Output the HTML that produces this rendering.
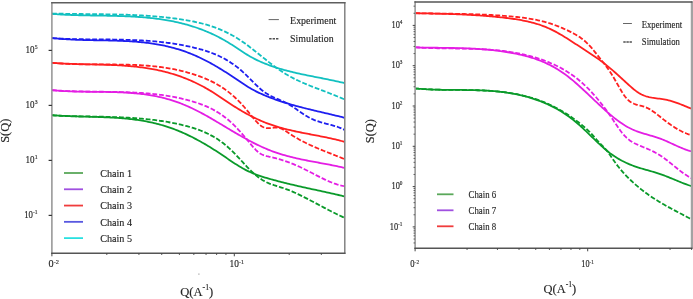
<!DOCTYPE html>
<html><head><meta charset="utf-8"><title>S(Q) plots</title>
<style>
html,body{margin:0;padding:0;background:#fff;}
body{width:693px;height:299px;overflow:hidden;}
svg{display:block;}
text{font-family:"Liberation Serif","Times New Roman",serif;fill:#262626;stroke:#262626;stroke-width:0.15px;}
</style></head>
<body>
<svg width="693" height="299" viewBox="0 0 693 299">
<defs>
<clipPath id="cl"><rect x="52.2" y="3.4" width="291.9" height="249.2"/></clipPath>
<clipPath id="cr"><rect x="415.8" y="2.7" width="275.2" height="244.9"/></clipPath>
</defs>
<rect width="693" height="299" fill="#fff"/>
<g clip-path="url(#cl)">
<path d="M52.0,115.10 L53.5,115.22 L55.0,115.34 L56.5,115.45 L58.0,115.55 L59.5,115.65 L61.0,115.74 L62.5,115.82 L64.0,115.90 L65.5,115.98 L67.0,116.05 L68.5,116.11 L70.0,116.17 L71.5,116.23 L73.0,116.29 L74.5,116.34 L76.0,116.39 L77.5,116.43 L79.0,116.48 L80.5,116.52 L82.0,116.56 L83.5,116.60 L85.0,116.64 L86.5,116.68 L88.0,116.72 L89.5,116.76 L91.0,116.80 L92.5,116.84 L94.0,116.88 L95.5,116.92 L97.0,116.97 L98.5,117.01 L100.0,117.06 L101.5,117.11 L103.0,117.17 L104.5,117.23 L106.0,117.29 L107.5,117.35 L109.0,117.42 L110.5,117.50 L112.0,117.57 L113.5,117.66 L115.0,117.75 L116.5,117.84 L118.0,117.95 L119.5,118.05 L121.0,118.17 L122.5,118.29 L124.0,118.42 L125.5,118.56 L127.0,118.70 L128.5,118.86 L130.0,119.02 L131.5,119.19 L133.0,119.37 L134.5,119.56 L136.0,119.76 L137.5,119.97 L139.0,120.19 L140.5,120.43 L142.0,120.67 L143.5,120.92 L145.0,121.19 L146.5,121.47 L148.0,121.76 L149.5,122.06 L151.0,122.38 L152.5,122.71 L154.0,123.06 L155.5,123.41 L157.0,123.79 L158.5,124.18 L160.0,124.58 L161.5,125.00 L163.0,125.43 L164.5,125.88 L166.0,126.34 L167.5,126.83 L169.0,127.33 L170.5,127.84 L172.0,128.38 L173.5,128.93 L175.0,129.49 L176.5,130.08 L178.0,130.68 L179.5,131.30 L181.0,131.93 L182.5,132.58 L184.0,133.25 L185.5,133.93 L187.0,134.63 L188.5,135.34 L190.0,136.07 L191.5,136.81 L193.0,137.57 L194.5,138.34 L196.0,139.13 L197.5,139.93 L199.0,140.75 L200.5,141.58 L202.0,142.42 L203.5,143.28 L205.0,144.15 L206.5,145.03 L208.0,145.93 L209.5,146.84 L211.0,147.76 L212.5,148.69 L214.0,149.64 L215.5,150.60 L217.0,151.57 L218.5,152.55 L220.0,153.54 L221.5,154.55 L223.0,155.56 L224.5,156.58 L226.0,157.60 L227.5,158.62 L229.0,159.64 L230.5,160.66 L232.0,161.66 L233.5,162.65 L235.0,163.63 L236.5,164.59 L238.0,165.53 L239.5,166.45 L241.0,167.35 L242.5,168.21 L244.0,169.04 L245.5,169.84 L247.0,170.60 L248.5,171.33 L250.0,172.02 L251.5,172.68 L253.0,173.31 L254.5,173.92 L256.0,174.49 L257.5,175.05 L259.0,175.58 L260.5,176.09 L262.0,176.58 L263.5,177.06 L265.0,177.52 L266.5,177.97 L268.0,178.40 L269.5,178.83 L271.0,179.25 L272.5,179.67 L274.0,180.08 L275.5,180.49 L277.0,180.88 L278.5,181.28 L280.0,181.67 L281.5,182.05 L283.0,182.43 L284.5,182.80 L286.0,183.17 L287.5,183.54 L289.0,183.90 L290.5,184.26 L292.0,184.62 L293.5,184.97 L295.0,185.32 L296.5,185.66 L298.0,186.01 L299.5,186.35 L301.0,186.69 L302.5,187.02 L304.0,187.36 L305.5,187.69 L307.0,188.02 L308.5,188.35 L310.0,188.68 L311.5,189.01 L313.0,189.34 L314.5,189.66 L316.0,189.99 L317.5,190.32 L319.0,190.64 L320.5,190.97 L322.0,191.30 L323.5,191.63 L325.0,191.96 L326.5,192.29 L328.0,192.62 L329.5,192.95 L331.0,193.29 L332.5,193.63 L334.0,193.97 L335.5,194.31 L337.0,194.65 L338.5,195.00 L340.0,195.35 L341.5,195.70 L343.0,196.06 L344.5,196.42 L346.0,196.78" fill="none" stroke="#0a9a2a" stroke-width="1.8" stroke-linejoin="round"/>
<path d="M52.0,115.40 L53.5,115.48 L55.0,115.55 L56.5,115.62 L58.0,115.68 L59.5,115.74 L61.0,115.80 L62.5,115.85 L64.0,115.90 L65.5,115.95 L67.0,116.00 L68.5,116.04 L70.0,116.08 L71.5,116.12 L73.0,116.16 L74.5,116.20 L76.0,116.23 L77.5,116.26 L79.0,116.29 L80.5,116.32 L82.0,116.35 L83.5,116.38 L85.0,116.41 L86.5,116.43 L88.0,116.46 L89.5,116.49 L91.0,116.51 L92.5,116.54 L94.0,116.57 L95.5,116.59 L97.0,116.62 L98.5,116.65 L100.0,116.68 L101.5,116.71 L103.0,116.75 L104.5,116.78 L106.0,116.82 L107.5,116.86 L109.0,116.90 L110.5,116.94 L112.0,116.99 L113.5,117.04 L115.0,117.09 L116.5,117.14 L118.0,117.20 L119.5,117.26 L121.0,117.32 L122.5,117.39 L124.0,117.46 L125.5,117.54 L127.0,117.62 L128.5,117.70 L130.0,117.79 L131.5,117.88 L133.0,117.98 L134.5,118.08 L136.0,118.19 L137.5,118.31 L139.0,118.42 L140.5,118.55 L142.0,118.68 L143.5,118.82 L145.0,118.96 L146.5,119.11 L148.0,119.27 L149.5,119.43 L151.0,119.60 L152.5,119.78 L154.0,119.96 L155.5,120.15 L157.0,120.35 L158.5,120.56 L160.0,120.77 L161.5,121.00 L163.0,121.23 L164.5,121.47 L166.0,121.72 L167.5,121.97 L169.0,122.24 L170.5,122.52 L172.0,122.80 L173.5,123.09 L175.0,123.40 L176.5,123.71 L178.0,124.04 L179.5,124.37 L181.0,124.71 L182.5,125.07 L184.0,125.43 L185.5,125.81 L187.0,126.20 L188.5,126.60 L190.0,127.02 L191.5,127.46 L193.0,127.91 L194.5,128.39 L196.0,128.88 L197.5,129.40 L199.0,129.94 L200.5,130.51 L202.0,131.11 L203.5,131.73 L205.0,132.38 L206.5,133.07 L208.0,133.79 L209.5,134.54 L211.0,135.33 L212.5,136.15 L214.0,137.02 L215.5,137.92 L217.0,138.86 L218.5,139.85 L220.0,140.89 L221.5,141.96 L223.0,143.09 L224.5,144.26 L226.0,145.49 L227.5,146.76 L229.0,148.09 L230.5,149.48 L232.0,150.92 L233.5,152.41 L235.0,153.94 L236.5,155.51 L238.0,157.10 L239.5,158.72 L241.0,160.34 L242.5,161.97 L244.0,163.59 L245.5,165.20 L247.0,166.79 L248.5,168.35 L250.0,169.88 L251.5,171.35 L253.0,172.77 L254.5,174.13 L256.0,175.41 L257.5,176.61 L259.0,177.74 L260.5,178.78 L262.0,179.75 L263.5,180.65 L265.0,181.47 L266.5,182.23 L268.0,182.92 L269.5,183.55 L271.0,184.14 L272.5,184.68 L274.0,185.20 L275.5,185.68 L277.0,186.15 L278.5,186.61 L280.0,187.07 L281.5,187.53 L283.0,188.01 L284.5,188.50 L286.0,189.03 L287.5,189.58 L289.0,190.16 L290.5,190.77 L292.0,191.40 L293.5,192.06 L295.0,192.73 L296.5,193.42 L298.0,194.13 L299.5,194.86 L301.0,195.60 L302.5,196.35 L304.0,197.11 L305.5,197.87 L307.0,198.65 L308.5,199.42 L310.0,200.21 L311.5,200.99 L313.0,201.78 L314.5,202.58 L316.0,203.37 L317.5,204.16 L319.0,204.96 L320.5,205.75 L322.0,206.55 L323.5,207.34 L325.0,208.13 L326.5,208.91 L328.0,209.69 L329.5,210.47 L331.0,211.23 L332.5,212.00 L334.0,212.75 L335.5,213.50 L337.0,214.24 L338.5,214.97 L340.0,215.69 L341.5,216.40 L343.0,217.09 L344.5,217.78 L346.0,218.45" fill="none" stroke="#0a9a2a" stroke-width="1.8" stroke-linejoin="round" stroke-dasharray="4.8 1.9"/>
<path d="M52.0,90.16 L53.5,90.30 L55.0,90.44 L56.5,90.56 L58.0,90.68 L59.5,90.79 L61.0,90.89 L62.5,90.98 L64.0,91.07 L65.5,91.15 L67.0,91.22 L68.5,91.29 L70.0,91.35 L71.5,91.41 L73.0,91.46 L74.5,91.50 L76.0,91.54 L77.5,91.58 L79.0,91.61 L80.5,91.64 L82.0,91.67 L83.5,91.69 L85.0,91.71 L86.5,91.73 L88.0,91.75 L89.5,91.76 L91.0,91.78 L92.5,91.79 L94.0,91.80 L95.5,91.82 L97.0,91.83 L98.5,91.84 L100.0,91.86 L101.5,91.87 L103.0,91.89 L104.5,91.91 L106.0,91.93 L107.5,91.96 L109.0,91.99 L110.5,92.02 L112.0,92.05 L113.5,92.09 L115.0,92.13 L116.5,92.18 L118.0,92.23 L119.5,92.29 L121.0,92.36 L122.5,92.43 L124.0,92.50 L125.5,92.59 L127.0,92.68 L128.5,92.77 L130.0,92.88 L131.5,92.99 L133.0,93.11 L134.5,93.25 L136.0,93.39 L137.5,93.53 L139.0,93.69 L140.5,93.86 L142.0,94.04 L143.5,94.23 L145.0,94.44 L146.5,94.65 L148.0,94.87 L149.5,95.11 L151.0,95.36 L152.5,95.63 L154.0,95.90 L155.5,96.19 L157.0,96.49 L158.5,96.81 L160.0,97.15 L161.5,97.49 L163.0,97.86 L164.5,98.23 L166.0,98.63 L167.5,99.04 L169.0,99.47 L170.5,99.91 L172.0,100.37 L173.5,100.85 L175.0,101.35 L176.5,101.86 L178.0,102.40 L179.5,102.95 L181.0,103.52 L182.5,104.12 L184.0,104.73 L185.5,105.36 L187.0,106.00 L188.5,106.67 L190.0,107.35 L191.5,108.05 L193.0,108.76 L194.5,109.49 L196.0,110.23 L197.5,110.99 L199.0,111.76 L200.5,112.55 L202.0,113.35 L203.5,114.16 L205.0,114.98 L206.5,115.82 L208.0,116.66 L209.5,117.52 L211.0,118.38 L212.5,119.25 L214.0,120.13 L215.5,121.02 L217.0,121.91 L218.5,122.80 L220.0,123.70 L221.5,124.59 L223.0,125.49 L224.5,126.39 L226.0,127.29 L227.5,128.18 L229.0,129.07 L230.5,129.97 L232.0,130.85 L233.5,131.74 L235.0,132.61 L236.5,133.49 L238.0,134.35 L239.5,135.22 L241.0,136.07 L242.5,136.92 L244.0,137.76 L245.5,138.58 L247.0,139.40 L248.5,140.21 L250.0,141.01 L251.5,141.80 L253.0,142.58 L254.5,143.34 L256.0,144.09 L257.5,144.83 L259.0,145.55 L260.5,146.26 L262.0,146.95 L263.5,147.63 L265.0,148.29 L266.5,148.93 L268.0,149.55 L269.5,150.16 L271.0,150.75 L272.5,151.31 L274.0,151.86 L275.5,152.39 L277.0,152.91 L278.5,153.41 L280.0,153.89 L281.5,154.35 L283.0,154.81 L284.5,155.24 L286.0,155.67 L287.5,156.08 L289.0,156.47 L290.5,156.86 L292.0,157.24 L293.5,157.60 L295.0,157.96 L296.5,158.30 L298.0,158.64 L299.5,158.96 L301.0,159.29 L302.5,159.60 L304.0,159.91 L305.5,160.21 L307.0,160.50 L308.5,160.79 L310.0,161.08 L311.5,161.36 L313.0,161.64 L314.5,161.92 L316.0,162.20 L317.5,162.47 L319.0,162.75 L320.5,163.03 L322.0,163.30 L323.5,163.58 L325.0,163.86 L326.5,164.14 L328.0,164.42 L329.5,164.71 L331.0,165.00 L332.5,165.30 L334.0,165.60 L335.5,165.91 L337.0,166.23 L338.5,166.55 L340.0,166.88 L341.5,167.22 L343.0,167.57 L344.5,167.93 L346.0,168.29" fill="none" stroke="#e41ee4" stroke-width="1.8" stroke-linejoin="round"/>
<path d="M52.0,90.14 L53.5,90.26 L55.0,90.37 L56.5,90.48 L58.0,90.58 L59.5,90.67 L61.0,90.76 L62.5,90.84 L64.0,90.91 L65.5,90.99 L67.0,91.05 L68.5,91.11 L70.0,91.17 L71.5,91.23 L73.0,91.27 L74.5,91.32 L76.0,91.36 L77.5,91.40 L79.0,91.44 L80.5,91.47 L82.0,91.50 L83.5,91.53 L85.0,91.55 L86.5,91.58 L88.0,91.60 L89.5,91.62 L91.0,91.64 L92.5,91.65 L94.0,91.67 L95.5,91.68 L97.0,91.70 L98.5,91.72 L100.0,91.73 L101.5,91.75 L103.0,91.76 L104.5,91.78 L106.0,91.79 L107.5,91.81 L109.0,91.83 L110.5,91.85 L112.0,91.87 L113.5,91.90 L115.0,91.92 L116.5,91.95 L118.0,91.98 L119.5,92.02 L121.0,92.05 L122.5,92.10 L124.0,92.14 L125.5,92.19 L127.0,92.24 L128.5,92.29 L130.0,92.35 L131.5,92.42 L133.0,92.48 L134.5,92.56 L136.0,92.64 L137.5,92.72 L139.0,92.81 L140.5,92.90 L142.0,93.01 L143.5,93.11 L145.0,93.23 L146.5,93.35 L148.0,93.48 L149.5,93.61 L151.0,93.75 L152.5,93.90 L154.0,94.06 L155.5,94.23 L157.0,94.40 L158.5,94.58 L160.0,94.77 L161.5,94.97 L163.0,95.18 L164.5,95.40 L166.0,95.62 L167.5,95.86 L169.0,96.11 L170.5,96.37 L172.0,96.63 L173.5,96.91 L175.0,97.20 L176.5,97.50 L178.0,97.81 L179.5,98.13 L181.0,98.47 L182.5,98.81 L184.0,99.17 L185.5,99.54 L187.0,99.92 L188.5,100.32 L190.0,100.73 L191.5,101.15 L193.0,101.59 L194.5,102.04 L196.0,102.51 L197.5,103.00 L199.0,103.51 L200.5,104.05 L202.0,104.61 L203.5,105.19 L205.0,105.80 L206.5,106.44 L208.0,107.11 L209.5,107.81 L211.0,108.55 L212.5,109.32 L214.0,110.12 L215.5,110.97 L217.0,111.86 L218.5,112.78 L220.0,113.75 L221.5,114.76 L223.0,115.82 L224.5,116.93 L226.0,118.09 L227.5,119.29 L229.0,120.55 L230.5,121.87 L232.0,123.23 L233.5,124.66 L235.0,126.14 L236.5,127.68 L238.0,129.28 L239.5,130.93 L241.0,132.61 L242.5,134.34 L244.0,136.09 L245.5,137.87 L247.0,139.66 L248.5,141.47 L250.0,143.28 L251.5,145.08 L253.0,146.85 L254.5,148.53 L256.0,150.09 L257.5,151.49 L259.0,152.69 L260.5,153.67 L262.0,154.47 L263.5,155.11 L265.0,155.63 L266.5,156.06 L268.0,156.43 L269.5,156.77 L271.0,157.11 L272.5,157.47 L274.0,157.84 L275.5,158.23 L277.0,158.63 L278.5,159.05 L280.0,159.48 L281.5,159.93 L283.0,160.40 L284.5,160.88 L286.0,161.38 L287.5,161.91 L289.0,162.45 L290.5,163.01 L292.0,163.59 L293.5,164.19 L295.0,164.81 L296.5,165.45 L298.0,166.11 L299.5,166.80 L301.0,167.50 L302.5,168.22 L304.0,168.96 L305.5,169.71 L307.0,170.47 L308.5,171.24 L310.0,172.01 L311.5,172.79 L313.0,173.57 L314.5,174.35 L316.0,175.13 L317.5,175.90 L319.0,176.66 L320.5,177.41 L322.0,178.16 L323.5,178.88 L325.0,179.59 L326.5,180.28 L328.0,180.95 L329.5,181.60 L331.0,182.21 L332.5,182.81 L334.0,183.37 L335.5,183.89 L337.0,184.39 L338.5,184.84 L340.0,185.26 L341.5,185.63 L343.0,185.96 L344.5,186.24 L346.0,186.48" fill="none" stroke="#e41ee4" stroke-width="1.8" stroke-linejoin="round" stroke-dasharray="4.8 1.9"/>
<path d="M52.0,62.81 L53.5,62.93 L55.0,63.03 L56.5,63.14 L58.0,63.23 L59.5,63.32 L61.0,63.41 L62.5,63.49 L64.0,63.56 L65.5,63.63 L67.0,63.70 L68.5,63.76 L70.0,63.82 L71.5,63.87 L73.0,63.93 L74.5,63.97 L76.0,64.02 L77.5,64.06 L79.0,64.10 L80.5,64.14 L82.0,64.18 L83.5,64.22 L85.0,64.25 L86.5,64.28 L88.0,64.32 L89.5,64.35 L91.0,64.38 L92.5,64.42 L94.0,64.45 L95.5,64.49 L97.0,64.52 L98.5,64.56 L100.0,64.60 L101.5,64.64 L103.0,64.68 L104.5,64.73 L106.0,64.78 L107.5,64.83 L109.0,64.88 L110.5,64.94 L112.0,65.00 L113.5,65.07 L115.0,65.14 L116.5,65.21 L118.0,65.29 L119.5,65.38 L121.0,65.47 L122.5,65.57 L124.0,65.67 L125.5,65.78 L127.0,65.89 L128.5,66.01 L130.0,66.14 L131.5,66.28 L133.0,66.42 L134.5,66.57 L136.0,66.73 L137.5,66.90 L139.0,67.08 L140.5,67.27 L142.0,67.46 L143.5,67.67 L145.0,67.88 L146.5,68.11 L148.0,68.34 L149.5,68.59 L151.0,68.85 L152.5,69.12 L154.0,69.40 L155.5,69.69 L157.0,69.99 L158.5,70.31 L160.0,70.63 L161.5,70.98 L163.0,71.33 L164.5,71.70 L166.0,72.08 L167.5,72.47 L169.0,72.88 L170.5,73.31 L172.0,73.75 L173.5,74.20 L175.0,74.67 L176.5,75.15 L178.0,75.65 L179.5,76.17 L181.0,76.70 L182.5,77.25 L184.0,77.82 L185.5,78.40 L187.0,79.00 L188.5,79.62 L190.0,80.26 L191.5,80.91 L193.0,81.59 L194.5,82.28 L196.0,82.99 L197.5,83.72 L199.0,84.47 L200.5,85.23 L202.0,86.02 L203.5,86.82 L205.0,87.65 L206.5,88.49 L208.0,89.35 L209.5,90.23 L211.0,91.13 L212.5,92.05 L214.0,92.99 L215.5,93.95 L217.0,94.93 L218.5,95.92 L220.0,96.93 L221.5,97.94 L223.0,98.95 L224.5,99.97 L226.0,100.99 L227.5,102.00 L229.0,103.00 L230.5,103.99 L232.0,104.97 L233.5,105.93 L235.0,106.88 L236.5,107.82 L238.0,108.74 L239.5,109.64 L241.0,110.54 L242.5,111.41 L244.0,112.27 L245.5,113.12 L247.0,113.95 L248.5,114.76 L250.0,115.55 L251.5,116.33 L253.0,117.09 L254.5,117.83 L256.0,118.55 L257.5,119.26 L259.0,119.94 L260.5,120.61 L262.0,121.25 L263.5,121.88 L265.0,122.48 L266.5,123.06 L268.0,123.63 L269.5,124.18 L271.0,124.71 L272.5,125.22 L274.0,125.71 L275.5,126.19 L277.0,126.66 L278.5,127.10 L280.0,127.54 L281.5,127.96 L283.0,128.37 L284.5,128.77 L286.0,129.15 L287.5,129.52 L289.0,129.89 L290.5,130.24 L292.0,130.59 L293.5,130.92 L295.0,131.25 L296.5,131.57 L298.0,131.89 L299.5,132.20 L301.0,132.50 L302.5,132.80 L304.0,133.10 L305.5,133.39 L307.0,133.68 L308.5,133.96 L310.0,134.25 L311.5,134.53 L313.0,134.82 L314.5,135.10 L316.0,135.39 L317.5,135.68 L319.0,135.96 L320.5,136.26 L322.0,136.55 L323.5,136.85 L325.0,137.16 L326.5,137.47 L328.0,137.78 L329.5,138.11 L331.0,138.44 L332.5,138.77 L334.0,139.12 L335.5,139.48 L337.0,139.84 L338.5,140.22 L340.0,140.60 L341.5,141.00 L343.0,141.41 L344.5,141.84 L346.0,142.28" fill="none" stroke="#ff2020" stroke-width="1.8" stroke-linejoin="round"/>
<path d="M52.0,62.78 L53.5,62.92 L55.0,63.06 L56.5,63.18 L58.0,63.30 L59.5,63.41 L61.0,63.51 L62.5,63.61 L64.0,63.70 L65.5,63.78 L67.0,63.86 L68.5,63.93 L70.0,63.99 L71.5,64.05 L73.0,64.10 L74.5,64.15 L76.0,64.20 L77.5,64.24 L79.0,64.27 L80.5,64.30 L82.0,64.33 L83.5,64.35 L85.0,64.37 L86.5,64.39 L88.0,64.41 L89.5,64.42 L91.0,64.43 L92.5,64.44 L94.0,64.45 L95.5,64.45 L97.0,64.46 L98.5,64.46 L100.0,64.46 L101.5,64.47 L103.0,64.47 L104.5,64.47 L106.0,64.47 L107.5,64.48 L109.0,64.48 L110.5,64.49 L112.0,64.50 L113.5,64.50 L115.0,64.52 L116.5,64.53 L118.0,64.54 L119.5,64.56 L121.0,64.58 L122.5,64.61 L124.0,64.63 L125.5,64.67 L127.0,64.70 L128.5,64.74 L130.0,64.79 L131.5,64.83 L133.0,64.89 L134.5,64.95 L136.0,65.01 L137.5,65.08 L139.0,65.16 L140.5,65.24 L142.0,65.33 L143.5,65.43 L145.0,65.53 L146.5,65.64 L148.0,65.76 L149.5,65.89 L151.0,66.02 L152.5,66.16 L154.0,66.31 L155.5,66.47 L157.0,66.64 L158.5,66.82 L160.0,67.01 L161.5,67.21 L163.0,67.42 L164.5,67.64 L166.0,67.86 L167.5,68.10 L169.0,68.36 L170.5,68.62 L172.0,68.89 L173.5,69.18 L175.0,69.48 L176.5,69.79 L178.0,70.11 L179.5,70.45 L181.0,70.80 L182.5,71.16 L184.0,71.54 L185.5,71.93 L187.0,72.34 L188.5,72.76 L190.0,73.19 L191.5,73.64 L193.0,74.11 L194.5,74.59 L196.0,75.08 L197.5,75.60 L199.0,76.12 L200.5,76.67 L202.0,77.24 L203.5,77.83 L205.0,78.44 L206.5,79.07 L208.0,79.73 L209.5,80.41 L211.0,81.13 L212.5,81.87 L214.0,82.64 L215.5,83.45 L217.0,84.29 L218.5,85.16 L220.0,86.08 L221.5,87.02 L223.0,88.01 L224.5,89.04 L226.0,90.11 L227.5,91.23 L229.0,92.39 L230.5,93.59 L232.0,94.85 L233.5,96.15 L235.0,97.50 L236.5,98.91 L238.0,100.36 L239.5,101.88 L241.0,103.45 L242.5,105.07 L244.0,106.76 L245.5,108.51 L247.0,110.31 L248.5,112.17 L250.0,114.04 L251.5,115.90 L253.0,117.73 L254.5,119.50 L256.0,121.17 L257.5,122.73 L259.0,124.15 L260.5,125.39 L262.0,126.43 L263.5,127.25 L265.0,127.81 L266.5,128.12 L268.0,128.22 L269.5,128.17 L271.0,128.02 L272.5,127.83 L274.0,127.65 L275.5,127.55 L277.0,127.57 L278.5,127.77 L280.0,128.18 L281.5,128.77 L283.0,129.50 L284.5,130.34 L286.0,131.27 L287.5,132.26 L289.0,133.26 L290.5,134.26 L292.0,135.23 L293.5,136.17 L295.0,137.09 L296.5,137.97 L298.0,138.84 L299.5,139.68 L301.0,140.49 L302.5,141.28 L304.0,142.06 L305.5,142.81 L307.0,143.55 L308.5,144.26 L310.0,144.97 L311.5,145.65 L313.0,146.33 L314.5,146.98 L316.0,147.63 L317.5,148.27 L319.0,148.90 L320.5,149.52 L322.0,150.13 L323.5,150.73 L325.0,151.33 L326.5,151.93 L328.0,152.52 L329.5,153.11 L331.0,153.70 L332.5,154.29 L334.0,154.88 L335.5,155.47 L337.0,156.07 L338.5,156.67 L340.0,157.28 L341.5,157.89 L343.0,158.52 L344.5,159.15 L346.0,159.79 L347.5,160.44 L348.0,160.66" fill="none" stroke="#ff2020" stroke-width="1.8" stroke-linejoin="round" stroke-dasharray="4.8 1.9"/>
<path d="M52.0,37.99 L53.5,38.16 L55.0,38.32 L56.5,38.47 L58.0,38.61 L59.5,38.74 L61.0,38.87 L62.5,38.99 L64.0,39.10 L65.5,39.20 L67.0,39.30 L68.5,39.39 L70.0,39.47 L71.5,39.55 L73.0,39.62 L74.5,39.69 L76.0,39.75 L77.5,39.81 L79.0,39.87 L80.5,39.91 L82.0,39.96 L83.5,40.00 L85.0,40.04 L86.5,40.08 L88.0,40.11 L89.5,40.14 L91.0,40.17 L92.5,40.20 L94.0,40.23 L95.5,40.26 L97.0,40.28 L98.5,40.31 L100.0,40.33 L101.5,40.36 L103.0,40.38 L104.5,40.41 L106.0,40.44 L107.5,40.47 L109.0,40.50 L110.5,40.53 L112.0,40.57 L113.5,40.61 L115.0,40.65 L116.5,40.69 L118.0,40.74 L119.5,40.80 L121.0,40.85 L122.5,40.91 L124.0,40.98 L125.5,41.05 L127.0,41.13 L128.5,41.21 L130.0,41.30 L131.5,41.40 L133.0,41.50 L134.5,41.61 L136.0,41.72 L137.5,41.85 L139.0,41.98 L140.5,42.12 L142.0,42.27 L143.5,42.42 L145.0,42.59 L146.5,42.77 L148.0,42.95 L149.5,43.15 L151.0,43.36 L152.5,43.57 L154.0,43.80 L155.5,44.04 L157.0,44.29 L158.5,44.56 L160.0,44.83 L161.5,45.12 L163.0,45.42 L164.5,45.73 L166.0,46.06 L167.5,46.40 L169.0,46.76 L170.5,47.13 L172.0,47.51 L173.5,47.91 L175.0,48.33 L176.5,48.76 L178.0,49.20 L179.5,49.66 L181.0,50.14 L182.5,50.64 L184.0,51.15 L185.5,51.68 L187.0,52.23 L188.5,52.80 L190.0,53.38 L191.5,53.98 L193.0,54.61 L194.5,55.25 L196.0,55.90 L197.5,56.58 L199.0,57.27 L200.5,57.98 L202.0,58.70 L203.5,59.45 L205.0,60.21 L206.5,60.98 L208.0,61.77 L209.5,62.57 L211.0,63.39 L212.5,64.23 L214.0,65.08 L215.5,65.94 L217.0,66.82 L218.5,67.71 L220.0,68.61 L221.5,69.53 L223.0,70.46 L224.5,71.40 L226.0,72.35 L227.5,73.32 L229.0,74.29 L230.5,75.28 L232.0,76.28 L233.5,77.29 L235.0,78.31 L236.5,79.33 L238.0,80.35 L239.5,81.36 L241.0,82.37 L242.5,83.37 L244.0,84.35 L245.5,85.32 L247.0,86.27 L248.5,87.19 L250.0,88.08 L251.5,88.94 L253.0,89.77 L254.5,90.57 L256.0,91.35 L257.5,92.09 L259.0,92.82 L260.5,93.52 L262.0,94.19 L263.5,94.85 L265.0,95.49 L266.5,96.11 L268.0,96.71 L269.5,97.30 L271.0,97.88 L272.5,98.44 L274.0,98.99 L275.5,99.53 L277.0,100.06 L278.5,100.58 L280.0,101.08 L281.5,101.58 L283.0,102.06 L284.5,102.54 L286.0,103.00 L287.5,103.46 L289.0,103.91 L290.5,104.35 L292.0,104.78 L293.5,105.20 L295.0,105.62 L296.5,106.03 L298.0,106.44 L299.5,106.83 L301.0,107.23 L302.5,107.61 L304.0,108.00 L305.5,108.37 L307.0,108.75 L308.5,109.11 L310.0,109.48 L311.5,109.84 L313.0,110.20 L314.5,110.56 L316.0,110.92 L317.5,111.27 L319.0,111.62 L320.5,111.97 L322.0,112.32 L323.5,112.67 L325.0,113.02 L326.5,113.38 L328.0,113.73 L329.5,114.08 L331.0,114.43 L332.5,114.79 L334.0,115.15 L335.5,115.51 L337.0,115.88 L338.5,116.24 L340.0,116.62 L341.5,116.99 L343.0,117.37 L344.5,117.76 L346.0,118.15" fill="none" stroke="#1e1ef0" stroke-width="1.8" stroke-linejoin="round"/>
<path d="M52.0,38.20 L53.5,38.29 L55.0,38.37 L56.5,38.45 L58.0,38.52 L59.5,38.59 L61.0,38.66 L62.5,38.72 L64.0,38.78 L65.5,38.83 L67.0,38.88 L68.5,38.93 L70.0,38.97 L71.5,39.01 L73.0,39.05 L74.5,39.08 L76.0,39.11 L77.5,39.14 L79.0,39.17 L80.5,39.20 L82.0,39.22 L83.5,39.24 L85.0,39.26 L86.5,39.28 L88.0,39.29 L89.5,39.31 L91.0,39.32 L92.5,39.34 L94.0,39.35 L95.5,39.36 L97.0,39.38 L98.5,39.39 L100.0,39.40 L101.5,39.41 L103.0,39.43 L104.5,39.44 L106.0,39.45 L107.5,39.47 L109.0,39.49 L110.5,39.50 L112.0,39.52 L113.5,39.54 L115.0,39.57 L116.5,39.59 L118.0,39.62 L119.5,39.65 L121.0,39.68 L122.5,39.71 L124.0,39.75 L125.5,39.79 L127.0,39.83 L128.5,39.88 L130.0,39.93 L131.5,39.98 L133.0,40.04 L134.5,40.10 L136.0,40.16 L137.5,40.23 L139.0,40.31 L140.5,40.39 L142.0,40.47 L143.5,40.56 L145.0,40.65 L146.5,40.75 L148.0,40.86 L149.5,40.97 L151.0,41.08 L152.5,41.21 L154.0,41.33 L155.5,41.47 L157.0,41.61 L158.5,41.76 L160.0,41.91 L161.5,42.08 L163.0,42.24 L164.5,42.42 L166.0,42.60 L167.5,42.80 L169.0,43.00 L170.5,43.20 L172.0,43.42 L173.5,43.64 L175.0,43.88 L176.5,44.12 L178.0,44.37 L179.5,44.63 L181.0,44.90 L182.5,45.18 L184.0,45.47 L185.5,45.76 L187.0,46.07 L188.5,46.39 L190.0,46.72 L191.5,47.06 L193.0,47.40 L194.5,47.76 L196.0,48.14 L197.5,48.52 L199.0,48.91 L200.5,49.32 L202.0,49.74 L203.5,50.18 L205.0,50.64 L206.5,51.12 L208.0,51.61 L209.5,52.13 L211.0,52.67 L212.5,53.24 L214.0,53.83 L215.5,54.45 L217.0,55.09 L218.5,55.77 L220.0,56.47 L221.5,57.21 L223.0,57.98 L224.5,58.79 L226.0,59.63 L227.5,60.51 L229.0,61.43 L230.5,62.38 L232.0,63.38 L233.5,64.42 L235.0,65.51 L236.5,66.64 L238.0,67.81 L239.5,69.04 L241.0,70.31 L242.5,71.63 L244.0,73.01 L245.5,74.43 L247.0,75.89 L248.5,77.38 L250.0,78.88 L251.5,80.39 L253.0,81.90 L254.5,83.38 L256.0,84.85 L257.5,86.27 L259.0,87.64 L260.5,88.96 L262.0,90.20 L263.5,91.37 L265.0,92.44 L266.5,93.43 L268.0,94.34 L269.5,95.19 L271.0,95.99 L272.5,96.73 L274.0,97.44 L275.5,98.12 L277.0,98.78 L278.5,99.44 L280.0,100.09 L281.5,100.75 L283.0,101.43 L284.5,102.13 L286.0,102.88 L287.5,103.67 L289.0,104.51 L290.5,105.41 L292.0,106.35 L293.5,107.33 L295.0,108.33 L296.5,109.36 L298.0,110.39 L299.5,111.42 L301.0,112.45 L302.5,113.47 L304.0,114.46 L305.5,115.41 L307.0,116.33 L308.5,117.19 L310.0,118.00 L311.5,118.74 L313.0,119.43 L314.5,120.05 L316.0,120.63 L317.5,121.17 L319.0,121.66 L320.5,122.13 L322.0,122.56 L323.5,122.98 L325.0,123.38 L326.5,123.77 L328.0,124.16 L329.5,124.55 L331.0,124.95 L332.5,125.36 L334.0,125.79 L335.5,126.24 L337.0,126.73 L338.5,127.25 L340.0,127.82 L341.5,128.43 L343.0,129.10 L344.5,129.82 L346.0,130.61" fill="none" stroke="#1e1ef0" stroke-width="1.8" stroke-linejoin="round" stroke-dasharray="4.8 1.9"/>
<path d="M52.0,13.86 L53.5,13.98 L55.0,14.09 L56.5,14.20 L58.0,14.30 L59.5,14.40 L61.0,14.49 L62.5,14.58 L64.0,14.66 L65.5,14.74 L67.0,14.81 L68.5,14.87 L70.0,14.94 L71.5,15.00 L73.0,15.05 L74.5,15.10 L76.0,15.15 L77.5,15.19 L79.0,15.23 L80.5,15.27 L82.0,15.31 L83.5,15.34 L85.0,15.37 L86.5,15.40 L88.0,15.43 L89.5,15.46 L91.0,15.48 L92.5,15.51 L94.0,15.53 L95.5,15.55 L97.0,15.58 L98.5,15.60 L100.0,15.62 L101.5,15.65 L103.0,15.67 L104.5,15.69 L106.0,15.72 L107.5,15.75 L109.0,15.78 L110.5,15.80 L112.0,15.84 L113.5,15.87 L115.0,15.91 L116.5,15.95 L118.0,15.99 L119.5,16.03 L121.0,16.08 L122.5,16.13 L124.0,16.19 L125.5,16.24 L127.0,16.31 L128.5,16.37 L130.0,16.45 L131.5,16.52 L133.0,16.60 L134.5,16.69 L136.0,16.78 L137.5,16.88 L139.0,16.98 L140.5,17.09 L142.0,17.21 L143.5,17.33 L145.0,17.46 L146.5,17.60 L148.0,17.74 L149.5,17.89 L151.0,18.05 L152.5,18.22 L154.0,18.39 L155.5,18.57 L157.0,18.77 L158.5,18.97 L160.0,19.17 L161.5,19.39 L163.0,19.62 L164.5,19.86 L166.0,20.10 L167.5,20.36 L169.0,20.63 L170.5,20.91 L172.0,21.19 L173.5,21.49 L175.0,21.81 L176.5,22.13 L178.0,22.46 L179.5,22.81 L181.0,23.17 L182.5,23.54 L184.0,23.92 L185.5,24.32 L187.0,24.74 L188.5,25.16 L190.0,25.60 L191.5,26.06 L193.0,26.52 L194.5,27.01 L196.0,27.51 L197.5,28.02 L199.0,28.56 L200.5,29.10 L202.0,29.67 L203.5,30.25 L205.0,30.85 L206.5,31.46 L208.0,32.10 L209.5,32.75 L211.0,33.42 L212.5,34.10 L214.0,34.81 L215.5,35.54 L217.0,36.28 L218.5,37.05 L220.0,37.83 L221.5,38.64 L223.0,39.46 L224.5,40.31 L226.0,41.17 L227.5,42.06 L229.0,42.97 L230.5,43.91 L232.0,44.86 L233.5,45.83 L235.0,46.81 L236.5,47.80 L238.0,48.80 L239.5,49.79 L241.0,50.78 L242.5,51.76 L244.0,52.73 L245.5,53.69 L247.0,54.62 L248.5,55.53 L250.0,56.41 L251.5,57.25 L253.0,58.07 L254.5,58.85 L256.0,59.60 L257.5,60.33 L259.0,61.03 L260.5,61.70 L262.0,62.35 L263.5,62.98 L265.0,63.59 L266.5,64.18 L268.0,64.75 L269.5,65.30 L271.0,65.83 L272.5,66.35 L274.0,66.86 L275.5,67.35 L277.0,67.83 L278.5,68.30 L280.0,68.75 L281.5,69.19 L283.0,69.62 L284.5,70.04 L286.0,70.44 L287.5,70.84 L289.0,71.23 L290.5,71.60 L292.0,71.97 L293.5,72.33 L295.0,72.69 L296.5,73.03 L298.0,73.37 L299.5,73.70 L301.0,74.03 L302.5,74.35 L304.0,74.67 L305.5,74.98 L307.0,75.29 L308.5,75.59 L310.0,75.89 L311.5,76.19 L313.0,76.49 L314.5,76.78 L316.0,77.08 L317.5,77.37 L319.0,77.66 L320.5,77.96 L322.0,78.25 L323.5,78.55 L325.0,78.85 L326.5,79.15 L328.0,79.45 L329.5,79.76 L331.0,80.07 L332.5,80.38 L334.0,80.70 L335.5,81.02 L337.0,81.35 L338.5,81.69 L340.0,82.03 L341.5,82.38 L343.0,82.73 L344.5,83.10 L346.0,83.47" fill="none" stroke="#12c0c0" stroke-width="1.8" stroke-linejoin="round"/>
<path d="M52.0,13.49 L53.5,13.54 L55.0,13.58 L56.5,13.62 L58.0,13.65 L59.5,13.69 L61.0,13.72 L62.5,13.75 L64.0,13.78 L65.5,13.81 L67.0,13.83 L68.5,13.85 L70.0,13.88 L71.5,13.90 L73.0,13.92 L74.5,13.94 L76.0,13.96 L77.5,13.97 L79.0,13.99 L80.5,14.00 L82.0,14.02 L83.5,14.03 L85.0,14.05 L86.5,14.06 L88.0,14.08 L89.5,14.09 L91.0,14.11 L92.5,14.12 L94.0,14.14 L95.5,14.15 L97.0,14.17 L98.5,14.18 L100.0,14.20 L101.5,14.22 L103.0,14.24 L104.5,14.26 L106.0,14.28 L107.5,14.30 L109.0,14.33 L110.5,14.35 L112.0,14.38 L113.5,14.41 L115.0,14.44 L116.5,14.48 L118.0,14.51 L119.5,14.55 L121.0,14.59 L122.5,14.63 L124.0,14.68 L125.5,14.72 L127.0,14.77 L128.5,14.83 L130.0,14.88 L131.5,14.94 L133.0,15.01 L134.5,15.07 L136.0,15.14 L137.5,15.21 L139.0,15.29 L140.5,15.37 L142.0,15.45 L143.5,15.54 L145.0,15.63 L146.5,15.73 L148.0,15.83 L149.5,15.93 L151.0,16.04 L152.5,16.16 L154.0,16.28 L155.5,16.40 L157.0,16.53 L158.5,16.66 L160.0,16.80 L161.5,16.95 L163.0,17.10 L164.5,17.25 L166.0,17.41 L167.5,17.58 L169.0,17.75 L170.5,17.93 L172.0,18.11 L173.5,18.30 L175.0,18.50 L176.5,18.70 L178.0,18.91 L179.5,19.13 L181.0,19.35 L182.5,19.58 L184.0,19.82 L185.5,20.06 L187.0,20.32 L188.5,20.58 L190.0,20.86 L191.5,21.14 L193.0,21.44 L194.5,21.75 L196.0,22.07 L197.5,22.41 L199.0,22.76 L200.5,23.12 L202.0,23.50 L203.5,23.89 L205.0,24.30 L206.5,24.73 L208.0,25.18 L209.5,25.64 L211.0,26.13 L212.5,26.63 L214.0,27.15 L215.5,27.69 L217.0,28.26 L218.5,28.84 L220.0,29.45 L221.5,30.09 L223.0,30.74 L224.5,31.42 L226.0,32.13 L227.5,32.86 L229.0,33.62 L230.5,34.40 L232.0,35.21 L233.5,36.05 L235.0,36.92 L236.5,37.82 L238.0,38.75 L239.5,39.71 L241.0,40.69 L242.5,41.71 L244.0,42.76 L245.5,43.83 L247.0,44.93 L248.5,46.05 L250.0,47.18 L251.5,48.33 L253.0,49.50 L254.5,50.68 L256.0,51.86 L257.5,53.06 L259.0,54.26 L260.5,55.46 L262.0,56.67 L263.5,57.87 L265.0,59.07 L266.5,60.26 L268.0,61.45 L269.5,62.62 L271.0,63.78 L272.5,64.93 L274.0,66.06 L275.5,67.17 L277.0,68.26 L278.5,69.32 L280.0,70.36 L281.5,71.37 L283.0,72.35 L284.5,73.29 L286.0,74.21 L287.5,75.09 L289.0,75.95 L290.5,76.78 L292.0,77.58 L293.5,78.36 L295.0,79.12 L296.5,79.85 L298.0,80.56 L299.5,81.26 L301.0,81.93 L302.5,82.59 L304.0,83.24 L305.5,83.87 L307.0,84.49 L308.5,85.10 L310.0,85.71 L311.5,86.30 L313.0,86.89 L314.5,87.47 L316.0,88.05 L317.5,88.62 L319.0,89.19 L320.5,89.77 L322.0,90.34 L323.5,90.91 L325.0,91.49 L326.5,92.07 L328.0,92.65 L329.5,93.23 L331.0,93.82 L332.5,94.41 L334.0,95.02 L335.5,95.62 L337.0,96.24 L338.5,96.86 L340.0,97.50 L341.5,98.14 L343.0,98.80 L344.5,99.47 L346.0,100.15" fill="none" stroke="#12c0c0" stroke-width="1.8" stroke-linejoin="round" stroke-dasharray="4.8 1.9"/>
</g>
<g clip-path="url(#cr)">
<path d="M415.0,88.42 L416.5,88.56 L418.0,88.69 L419.5,88.81 L421.0,88.93 L422.5,89.03 L424.0,89.13 L425.5,89.21 L427.0,89.30 L428.5,89.37 L430.0,89.44 L431.5,89.50 L433.0,89.55 L434.5,89.60 L436.0,89.65 L437.5,89.69 L439.0,89.73 L440.5,89.76 L442.0,89.78 L443.5,89.81 L445.0,89.83 L446.5,89.85 L448.0,89.87 L449.5,89.88 L451.0,89.89 L452.5,89.91 L454.0,89.92 L455.5,89.93 L457.0,89.94 L458.5,89.95 L460.0,89.96 L461.5,89.97 L463.0,89.98 L464.5,90.00 L466.0,90.02 L467.5,90.04 L469.0,90.06 L470.5,90.08 L472.0,90.11 L473.5,90.15 L475.0,90.18 L476.5,90.23 L478.0,90.27 L479.5,90.32 L481.0,90.38 L482.5,90.45 L484.0,90.52 L485.5,90.59 L487.0,90.68 L488.5,90.77 L490.0,90.87 L491.5,90.97 L493.0,91.09 L494.5,91.21 L496.0,91.35 L497.5,91.49 L499.0,91.65 L500.5,91.81 L502.0,91.99 L503.5,92.17 L505.0,92.37 L506.5,92.58 L508.0,92.80 L509.5,93.03 L511.0,93.28 L512.5,93.54 L514.0,93.81 L515.5,94.10 L517.0,94.40 L518.5,94.72 L520.0,95.05 L521.5,95.40 L523.0,95.76 L524.5,96.14 L526.0,96.54 L527.5,96.95 L529.0,97.38 L530.5,97.82 L532.0,98.29 L533.5,98.77 L535.0,99.28 L536.5,99.80 L538.0,100.34 L539.5,100.90 L541.0,101.48 L542.5,102.08 L544.0,102.70 L545.5,103.34 L547.0,104.01 L548.5,104.69 L550.0,105.40 L551.5,106.13 L553.0,106.89 L554.5,107.67 L556.0,108.47 L557.5,109.31 L559.0,110.17 L560.5,111.05 L562.0,111.97 L563.5,112.92 L565.0,113.90 L566.5,114.91 L568.0,115.96 L569.5,117.04 L571.0,118.16 L572.5,119.31 L574.0,120.50 L575.5,121.73 L577.0,123.00 L578.5,124.30 L580.0,125.63 L581.5,126.99 L583.0,128.38 L584.5,129.79 L586.0,131.21 L587.5,132.65 L589.0,134.10 L590.5,135.55 L592.0,137.01 L593.5,138.47 L595.0,139.92 L596.5,141.36 L598.0,142.79 L599.5,144.19 L601.0,145.58 L602.5,146.93 L604.0,148.26 L605.5,149.55 L607.0,150.79 L608.5,151.99 L610.0,153.15 L611.5,154.25 L613.0,155.31 L614.5,156.33 L616.0,157.30 L617.5,158.23 L619.0,159.12 L620.5,159.97 L622.0,160.79 L623.5,161.56 L625.0,162.30 L626.5,163.01 L628.0,163.68 L629.5,164.32 L631.0,164.93 L632.5,165.51 L634.0,166.06 L635.5,166.58 L637.0,167.09 L638.5,167.57 L640.0,168.04 L641.5,168.50 L643.0,168.94 L644.5,169.37 L646.0,169.80 L647.5,170.22 L649.0,170.65 L650.5,171.07 L652.0,171.51 L653.5,171.94 L655.0,172.39 L656.5,172.86 L658.0,173.33 L659.5,173.83 L661.0,174.35 L662.5,174.89 L664.0,175.44 L665.5,176.02 L667.0,176.60 L668.5,177.20 L670.0,177.81 L671.5,178.42 L673.0,179.04 L674.5,179.66 L676.0,180.28 L677.5,180.90 L679.0,181.52 L680.5,182.12 L682.0,182.72 L683.5,183.31 L685.0,183.88 L686.5,184.44 L688.0,184.98 L689.5,185.50 L691.0,186.00 L692.5,186.47 L693.0,186.62" fill="none" stroke="#0a9a2a" stroke-width="1.8" stroke-linejoin="round"/>
<path d="M415.0,88.43 L416.5,88.56 L418.0,88.69 L419.5,88.81 L421.0,88.93 L422.5,89.03 L424.0,89.13 L425.5,89.21 L427.0,89.29 L428.5,89.37 L430.0,89.44 L431.5,89.50 L433.0,89.55 L434.5,89.60 L436.0,89.65 L437.5,89.69 L439.0,89.72 L440.5,89.76 L442.0,89.78 L443.5,89.81 L445.0,89.83 L446.5,89.85 L448.0,89.87 L449.5,89.88 L451.0,89.89 L452.5,89.90 L454.0,89.92 L455.5,89.93 L457.0,89.94 L458.5,89.95 L460.0,89.96 L461.5,89.97 L463.0,89.98 L464.5,90.00 L466.0,90.01 L467.5,90.03 L469.0,90.05 L470.5,90.08 L472.0,90.11 L473.5,90.14 L475.0,90.17 L476.5,90.21 L478.0,90.26 L479.5,90.31 L481.0,90.36 L482.5,90.42 L484.0,90.49 L485.5,90.56 L487.0,90.64 L488.5,90.73 L490.0,90.82 L491.5,90.92 L493.0,91.04 L494.5,91.15 L496.0,91.28 L497.5,91.42 L499.0,91.57 L500.5,91.73 L502.0,91.89 L503.5,92.07 L505.0,92.26 L506.5,92.46 L508.0,92.67 L509.5,92.90 L511.0,93.13 L512.5,93.38 L514.0,93.65 L515.5,93.92 L517.0,94.21 L518.5,94.52 L520.0,94.84 L521.5,95.17 L523.0,95.52 L524.5,95.88 L526.0,96.26 L527.5,96.66 L529.0,97.07 L530.5,97.50 L532.0,97.95 L533.5,98.42 L535.0,98.90 L536.5,99.40 L538.0,99.92 L539.5,100.46 L541.0,101.02 L542.5,101.60 L544.0,102.20 L545.5,102.82 L547.0,103.46 L548.5,104.12 L550.0,104.81 L551.5,105.51 L553.0,106.24 L554.5,106.99 L556.0,107.76 L557.5,108.56 L559.0,109.38 L560.5,110.22 L562.0,111.09 L563.5,111.98 L565.0,112.90 L566.5,113.85 L568.0,114.81 L569.5,115.81 L571.0,116.83 L572.5,117.87 L574.0,118.95 L575.5,120.05 L577.0,121.17 L578.5,122.33 L580.0,123.51 L581.5,124.72 L583.0,125.95 L584.5,127.22 L586.0,128.53 L587.5,129.88 L589.0,131.30 L590.5,132.79 L592.0,134.37 L593.5,136.04 L595.0,137.79 L596.5,139.55 L598.0,141.24 L599.5,142.83 L601.0,144.35 L602.5,145.85 L604.0,147.40 L605.5,149.04 L607.0,150.85 L608.5,152.84 L610.0,154.99 L611.5,157.20 L613.0,159.42 L614.5,161.58 L616.0,163.64 L617.5,165.63 L619.0,167.53 L620.5,169.36 L622.0,171.12 L623.5,172.82 L625.0,174.45 L626.5,176.03 L628.0,177.56 L629.5,179.05 L631.0,180.49 L632.5,181.90 L634.0,183.27 L635.5,184.60 L637.0,185.89 L638.5,187.15 L640.0,188.38 L641.5,189.58 L643.0,190.75 L644.5,191.89 L646.0,193.00 L647.5,194.08 L649.0,195.14 L650.5,196.17 L652.0,197.18 L653.5,198.17 L655.0,199.13 L656.5,200.08 L658.0,201.01 L659.5,201.92 L661.0,202.81 L662.5,203.69 L664.0,204.56 L665.5,205.41 L667.0,206.26 L668.5,207.09 L670.0,207.91 L671.5,208.73 L673.0,209.53 L674.5,210.34 L676.0,211.13 L677.5,211.93 L679.0,212.72 L680.5,213.51 L682.0,214.31 L683.5,215.10 L685.0,215.90 L686.5,216.70 L688.0,217.50 L689.5,218.32 L691.0,219.14 L692.5,219.96 L693.0,220.24" fill="none" stroke="#0a9a2a" stroke-width="1.8" stroke-linejoin="round" stroke-dasharray="4.8 1.9"/>
<path d="M415.0,47.39 L416.5,47.43 L418.0,47.47 L419.5,47.50 L421.0,47.53 L422.5,47.56 L424.0,47.58 L425.5,47.61 L427.0,47.63 L428.5,47.65 L430.0,47.67 L431.5,47.69 L433.0,47.71 L434.5,47.73 L436.0,47.75 L437.5,47.76 L439.0,47.78 L440.5,47.80 L442.0,47.82 L443.5,47.84 L445.0,47.86 L446.5,47.88 L448.0,47.90 L449.5,47.92 L451.0,47.95 L452.5,47.98 L454.0,48.00 L455.5,48.04 L457.0,48.07 L458.5,48.11 L460.0,48.15 L461.5,48.19 L463.0,48.24 L464.5,48.29 L466.0,48.34 L467.5,48.40 L469.0,48.46 L470.5,48.53 L472.0,48.60 L473.5,48.68 L475.0,48.76 L476.5,48.85 L478.0,48.94 L479.5,49.04 L481.0,49.14 L482.5,49.25 L484.0,49.37 L485.5,49.49 L487.0,49.62 L488.5,49.75 L490.0,49.90 L491.5,50.05 L493.0,50.21 L494.5,50.37 L496.0,50.55 L497.5,50.73 L499.0,50.92 L500.5,51.12 L502.0,51.32 L503.5,51.54 L505.0,51.77 L506.5,52.00 L508.0,52.25 L509.5,52.50 L511.0,52.77 L512.5,53.04 L514.0,53.33 L515.5,53.62 L517.0,53.93 L518.5,54.25 L520.0,54.58 L521.5,54.93 L523.0,55.29 L524.5,55.66 L526.0,56.05 L527.5,56.46 L529.0,56.88 L530.5,57.32 L532.0,57.78 L533.5,58.26 L535.0,58.76 L536.5,59.29 L538.0,59.83 L539.5,60.40 L541.0,60.99 L542.5,61.60 L544.0,62.24 L545.5,62.91 L547.0,63.60 L548.5,64.32 L550.0,65.07 L551.5,65.84 L553.0,66.65 L554.5,67.49 L556.0,68.36 L557.5,69.26 L559.0,70.19 L560.5,71.16 L562.0,72.16 L563.5,73.20 L565.0,74.28 L566.5,75.39 L568.0,76.54 L569.5,77.72 L571.0,78.93 L572.5,80.17 L574.0,81.43 L575.5,82.73 L577.0,84.04 L578.5,85.37 L580.0,86.72 L581.5,88.09 L583.0,89.47 L584.5,90.87 L586.0,92.27 L587.5,93.68 L589.0,95.10 L590.5,96.52 L592.0,97.94 L593.5,99.36 L595.0,100.78 L596.5,102.20 L598.0,103.61 L599.5,105.01 L601.0,106.40 L602.5,107.77 L604.0,109.14 L605.5,110.48 L607.0,111.81 L608.5,113.11 L610.0,114.40 L611.5,115.65 L613.0,116.88 L614.5,118.09 L616.0,119.26 L617.5,120.39 L619.0,121.49 L620.5,122.56 L622.0,123.58 L623.5,124.57 L625.0,125.51 L626.5,126.40 L628.0,127.25 L629.5,128.05 L631.0,128.79 L632.5,129.49 L634.0,130.14 L635.5,130.75 L637.0,131.32 L638.5,131.86 L640.0,132.37 L641.5,132.86 L643.0,133.33 L644.5,133.78 L646.0,134.22 L647.5,134.65 L649.0,135.08 L650.5,135.52 L652.0,135.95 L653.5,136.40 L655.0,136.86 L656.5,137.34 L658.0,137.84 L659.5,138.37 L661.0,138.93 L662.5,139.52 L664.0,140.14 L665.5,140.77 L667.0,141.43 L668.5,142.10 L670.0,142.78 L671.5,143.47 L673.0,144.16 L674.5,144.85 L676.0,145.53 L677.5,146.20 L679.0,146.87 L680.5,147.51 L682.0,148.14 L683.5,148.74 L685.0,149.31 L686.5,149.85 L688.0,150.35 L689.5,150.81 L691.0,151.23 L692.5,151.61 L693.0,151.72" fill="none" stroke="#e41ee4" stroke-width="1.8" stroke-linejoin="round"/>
<path d="M415.0,47.29 L416.5,47.39 L418.0,47.49 L419.5,47.58 L421.0,47.66 L422.5,47.74 L424.0,47.81 L425.5,47.87 L427.0,47.93 L428.5,47.99 L430.0,48.04 L431.5,48.09 L433.0,48.13 L434.5,48.17 L436.0,48.21 L437.5,48.24 L439.0,48.27 L440.5,48.30 L442.0,48.32 L443.5,48.35 L445.0,48.37 L446.5,48.39 L448.0,48.41 L449.5,48.43 L451.0,48.45 L452.5,48.47 L454.0,48.48 L455.5,48.50 L457.0,48.52 L458.5,48.54 L460.0,48.56 L461.5,48.59 L463.0,48.61 L464.5,48.64 L466.0,48.67 L467.5,48.70 L469.0,48.74 L470.5,48.77 L472.0,48.82 L473.5,48.86 L475.0,48.91 L476.5,48.96 L478.0,49.02 L479.5,49.09 L481.0,49.15 L482.5,49.23 L484.0,49.31 L485.5,49.39 L487.0,49.48 L488.5,49.58 L490.0,49.69 L491.5,49.80 L493.0,49.92 L494.5,50.05 L496.0,50.19 L497.5,50.33 L499.0,50.48 L500.5,50.64 L502.0,50.81 L503.5,50.99 L505.0,51.18 L506.5,51.38 L508.0,51.60 L509.5,51.82 L511.0,52.05 L512.5,52.29 L514.0,52.54 L515.5,52.81 L517.0,53.09 L518.5,53.38 L520.0,53.68 L521.5,54.00 L523.0,54.33 L524.5,54.67 L526.0,55.03 L527.5,55.40 L529.0,55.78 L530.5,56.18 L532.0,56.59 L533.5,57.02 L535.0,57.47 L536.5,57.92 L538.0,58.40 L539.5,58.89 L541.0,59.40 L542.5,59.93 L544.0,60.47 L545.5,61.03 L547.0,61.61 L548.5,62.20 L550.0,62.82 L551.5,63.46 L553.0,64.11 L554.5,64.80 L556.0,65.50 L557.5,66.23 L559.0,66.99 L560.5,67.78 L562.0,68.59 L563.5,69.44 L565.0,70.31 L566.5,71.22 L568.0,72.16 L569.5,73.14 L571.0,74.15 L572.5,75.20 L574.0,76.28 L575.5,77.41 L577.0,78.57 L578.5,79.78 L580.0,81.03 L581.5,82.32 L583.0,83.66 L584.5,85.04 L586.0,86.47 L587.5,87.95 L589.0,89.47 L590.5,91.03 L592.0,92.64 L593.5,94.30 L595.0,95.99 L596.5,97.74 L598.0,99.52 L599.5,101.35 L601.0,103.21 L602.5,105.12 L604.0,107.08 L605.5,109.09 L607.0,111.14 L608.5,113.25 L610.0,115.41 L611.5,117.62 L613.0,119.87 L614.5,122.13 L616.0,124.37 L617.5,126.57 L619.0,128.71 L620.5,130.77 L622.0,132.71 L623.5,134.53 L625.0,136.18 L626.5,137.66 L628.0,138.98 L629.5,140.15 L631.0,141.20 L632.5,142.13 L634.0,142.97 L635.5,143.73 L637.0,144.43 L638.5,145.08 L640.0,145.72 L641.5,146.34 L643.0,146.96 L644.5,147.59 L646.0,148.22 L647.5,148.86 L649.0,149.52 L650.5,150.20 L652.0,150.91 L653.5,151.65 L655.0,152.42 L656.5,153.24 L658.0,154.10 L659.5,155.02 L661.0,155.98 L662.5,157.01 L664.0,158.08 L665.5,159.19 L667.0,160.33 L668.5,161.50 L670.0,162.70 L671.5,163.90 L673.0,165.12 L674.5,166.34 L676.0,167.55 L677.5,168.75 L679.0,169.93 L680.5,171.09 L682.0,172.22 L683.5,173.31 L685.0,174.36 L686.5,175.36 L688.0,176.30 L689.5,177.18 L691.0,177.99 L692.5,178.72 L693.0,178.95" fill="none" stroke="#e41ee4" stroke-width="1.8" stroke-linejoin="round" stroke-dasharray="4.8 1.9"/>
<path d="M415.0,13.15 L416.5,13.18 L418.0,13.22 L419.5,13.25 L421.0,13.29 L422.5,13.32 L424.0,13.35 L425.5,13.39 L427.0,13.42 L428.5,13.45 L430.0,13.49 L431.5,13.52 L433.0,13.56 L434.5,13.59 L436.0,13.63 L437.5,13.67 L439.0,13.71 L440.5,13.75 L442.0,13.79 L443.5,13.83 L445.0,13.87 L446.5,13.91 L448.0,13.96 L449.5,14.01 L451.0,14.06 L452.5,14.11 L454.0,14.16 L455.5,14.21 L457.0,14.27 L458.5,14.33 L460.0,14.39 L461.5,14.46 L463.0,14.52 L464.5,14.59 L466.0,14.66 L467.5,14.74 L469.0,14.82 L470.5,14.90 L472.0,14.98 L473.5,15.07 L475.0,15.16 L476.5,15.25 L478.0,15.35 L479.5,15.45 L481.0,15.55 L482.5,15.66 L484.0,15.77 L485.5,15.89 L487.0,16.01 L488.5,16.14 L490.0,16.27 L491.5,16.40 L493.0,16.54 L494.5,16.68 L496.0,16.83 L497.5,16.98 L499.0,17.14 L500.5,17.30 L502.0,17.47 L503.5,17.64 L505.0,17.82 L506.5,18.00 L508.0,18.19 L509.5,18.39 L511.0,18.59 L512.5,18.79 L514.0,19.01 L515.5,19.23 L517.0,19.46 L518.5,19.71 L520.0,19.96 L521.5,20.23 L523.0,20.51 L524.5,20.80 L526.0,21.11 L527.5,21.43 L529.0,21.77 L530.5,22.13 L532.0,22.51 L533.5,22.91 L535.0,23.33 L536.5,23.77 L538.0,24.24 L539.5,24.73 L541.0,25.24 L542.5,25.78 L544.0,26.35 L545.5,26.94 L547.0,27.56 L548.5,28.21 L550.0,28.90 L551.5,29.61 L553.0,30.36 L554.5,31.13 L556.0,31.92 L557.5,32.75 L559.0,33.59 L560.5,34.46 L562.0,35.34 L563.5,36.25 L565.0,37.16 L566.5,38.10 L568.0,39.04 L569.5,39.99 L571.0,40.96 L572.5,41.93 L574.0,42.90 L575.5,43.88 L577.0,44.86 L578.5,45.83 L580.0,46.81 L581.5,47.78 L583.0,48.75 L584.5,49.72 L586.0,50.70 L587.5,51.67 L589.0,52.65 L590.5,53.64 L592.0,54.64 L593.5,55.66 L595.0,56.68 L596.5,57.73 L598.0,58.79 L599.5,59.87 L601.0,60.97 L602.5,62.10 L604.0,63.26 L605.5,64.44 L607.0,65.64 L608.5,66.87 L610.0,68.12 L611.5,69.39 L613.0,70.68 L614.5,71.98 L616.0,73.30 L617.5,74.64 L619.0,75.99 L620.5,77.35 L622.0,78.72 L623.5,80.10 L625.0,81.48 L626.5,82.87 L628.0,84.25 L629.5,85.61 L631.0,86.94 L632.5,88.23 L634.0,89.47 L635.5,90.64 L637.0,91.73 L638.5,92.74 L640.0,93.65 L641.5,94.45 L643.0,95.15 L644.5,95.75 L646.0,96.27 L647.5,96.72 L649.0,97.10 L650.5,97.43 L652.0,97.71 L653.5,97.95 L655.0,98.16 L656.5,98.35 L658.0,98.54 L659.5,98.72 L661.0,98.91 L662.5,99.12 L664.0,99.36 L665.5,99.64 L667.0,99.96 L668.5,100.32 L670.0,100.71 L671.5,101.14 L673.0,101.60 L674.5,102.09 L676.0,102.60 L677.5,103.14 L679.0,103.70 L680.5,104.27 L682.0,104.86 L683.5,105.46 L685.0,106.07 L686.5,106.69 L688.0,107.30 L689.5,107.92 L691.0,108.54 L692.5,109.15 L693.0,109.35" fill="none" stroke="#ff2020" stroke-width="1.8" stroke-linejoin="round"/>
<path d="M415.0,13.24 L416.5,13.26 L418.0,13.29 L419.5,13.32 L421.0,13.34 L422.5,13.36 L424.0,13.39 L425.5,13.41 L427.0,13.43 L428.5,13.45 L430.0,13.47 L431.5,13.49 L433.0,13.51 L434.5,13.53 L436.0,13.54 L437.5,13.56 L439.0,13.58 L440.5,13.60 L442.0,13.62 L443.5,13.64 L445.0,13.66 L446.5,13.68 L448.0,13.70 L449.5,13.72 L451.0,13.74 L452.5,13.77 L454.0,13.79 L455.5,13.82 L457.0,13.85 L458.5,13.87 L460.0,13.90 L461.5,13.93 L463.0,13.97 L464.5,14.00 L466.0,14.04 L467.5,14.08 L469.0,14.12 L470.5,14.16 L472.0,14.20 L473.5,14.25 L475.0,14.30 L476.5,14.35 L478.0,14.40 L479.5,14.46 L481.0,14.52 L482.5,14.58 L484.0,14.64 L485.5,14.71 L487.0,14.78 L488.5,14.86 L490.0,14.93 L491.5,15.01 L493.0,15.10 L494.5,15.19 L496.0,15.28 L497.5,15.37 L499.0,15.47 L500.5,15.58 L502.0,15.68 L503.5,15.79 L505.0,15.91 L506.5,16.03 L508.0,16.15 L509.5,16.28 L511.0,16.42 L512.5,16.55 L514.0,16.70 L515.5,16.85 L517.0,17.01 L518.5,17.17 L520.0,17.34 L521.5,17.52 L523.0,17.72 L524.5,17.92 L526.0,18.13 L527.5,18.35 L529.0,18.59 L530.5,18.83 L532.0,19.09 L533.5,19.37 L535.0,19.66 L536.5,19.96 L538.0,20.28 L539.5,20.61 L541.0,20.96 L542.5,21.33 L544.0,21.72 L545.5,22.13 L547.0,22.55 L548.5,22.99 L550.0,23.46 L551.5,23.95 L553.0,24.45 L554.5,24.98 L556.0,25.53 L557.5,26.10 L559.0,26.69 L560.5,27.30 L562.0,27.92 L563.5,28.57 L565.0,29.24 L566.5,29.93 L568.0,30.64 L569.5,31.37 L571.0,32.11 L572.5,32.88 L574.0,33.68 L575.5,34.52 L577.0,35.41 L578.5,36.35 L580.0,37.35 L581.5,38.42 L583.0,39.57 L584.5,40.80 L586.0,42.11 L587.5,43.53 L589.0,45.05 L590.5,46.69 L592.0,48.43 L593.5,50.24 L595.0,52.10 L596.5,53.98 L598.0,55.86 L599.5,57.73 L601.0,59.59 L602.5,61.46 L604.0,63.36 L605.5,65.32 L607.0,67.37 L608.5,69.51 L610.0,71.74 L611.5,74.06 L613.0,76.48 L614.5,78.99 L616.0,81.59 L617.5,84.26 L619.0,86.92 L620.5,89.54 L622.0,92.05 L623.5,94.39 L625.0,96.51 L626.5,98.36 L628.0,99.92 L629.5,101.20 L631.0,102.25 L632.5,103.10 L634.0,103.78 L635.5,104.34 L637.0,104.79 L638.5,105.19 L640.0,105.55 L641.5,105.91 L643.0,106.32 L644.5,106.80 L646.0,107.38 L647.5,108.07 L649.0,108.86 L650.5,109.74 L652.0,110.70 L653.5,111.73 L655.0,112.81 L656.5,113.93 L658.0,115.09 L659.5,116.27 L661.0,117.47 L662.5,118.67 L664.0,119.85 L665.5,121.02 L667.0,122.16 L668.5,123.27 L670.0,124.34 L671.5,125.38 L673.0,126.39 L674.5,127.36 L676.0,128.28 L677.5,129.17 L679.0,130.01 L680.5,130.81 L682.0,131.56 L683.5,132.26 L685.0,132.91 L686.5,133.51 L688.0,134.06 L689.5,134.54 L691.0,134.97 L692.5,135.34 L693.0,135.45" fill="none" stroke="#ff2020" stroke-width="1.8" stroke-linejoin="round" stroke-dasharray="4.8 1.9"/>
</g>
<line x1="51.90" y1="2.00" x2="51.90" y2="254.00" stroke="#8a8a8a" stroke-width="1.4"/>
<line x1="344.80" y1="2.00" x2="344.80" y2="254.00" stroke="#7a7a7a" stroke-width="1.4"/>
<line x1="51.20" y1="2.70" x2="345.50" y2="2.70" stroke="#5e5e5e" stroke-width="1.5"/>
<line x1="51.20" y1="253.30" x2="345.50" y2="253.30" stroke="#555" stroke-width="1.5"/>
<line x1="48.60" y1="50.40" x2="51.90" y2="50.40" stroke="#333" stroke-width="1.2"/>
<line x1="48.60" y1="105.40" x2="51.90" y2="105.40" stroke="#333" stroke-width="1.2"/>
<line x1="48.60" y1="160.40" x2="51.90" y2="160.40" stroke="#333" stroke-width="1.2"/>
<line x1="48.60" y1="215.40" x2="51.90" y2="215.40" stroke="#333" stroke-width="1.2"/>
<line x1="51.90" y1="253.30" x2="51.90" y2="256.30" stroke="#444" stroke-width="1.0"/>
<line x1="106.81" y1="253.30" x2="106.81" y2="254.90" stroke="#444" stroke-width="1.0"/>
<line x1="138.93" y1="253.30" x2="138.93" y2="254.90" stroke="#444" stroke-width="1.0"/>
<line x1="161.72" y1="253.30" x2="161.72" y2="254.90" stroke="#444" stroke-width="1.0"/>
<line x1="179.39" y1="253.30" x2="179.39" y2="254.90" stroke="#444" stroke-width="1.0"/>
<line x1="193.83" y1="253.30" x2="193.83" y2="254.90" stroke="#444" stroke-width="1.0"/>
<line x1="206.05" y1="253.30" x2="206.05" y2="254.90" stroke="#444" stroke-width="1.0"/>
<line x1="216.62" y1="253.30" x2="216.62" y2="254.90" stroke="#444" stroke-width="1.0"/>
<line x1="225.95" y1="253.30" x2="225.95" y2="254.90" stroke="#444" stroke-width="1.0"/>
<line x1="234.30" y1="253.30" x2="234.30" y2="256.30" stroke="#444" stroke-width="1.0"/>
<line x1="289.21" y1="253.30" x2="289.21" y2="254.90" stroke="#444" stroke-width="1.0"/>
<line x1="321.33" y1="253.30" x2="321.33" y2="254.90" stroke="#444" stroke-width="1.0"/>
<line x1="415.10" y1="1.30" x2="415.10" y2="249.00" stroke="#8a8a8a" stroke-width="1.4"/>
<line x1="691.90" y1="1.30" x2="691.90" y2="248.80" stroke="#a2a2a2" stroke-width="2.3"/>
<line x1="414.40" y1="2.00" x2="692.40" y2="2.00" stroke="#555" stroke-width="1.5"/>
<line x1="414.40" y1="248.30" x2="692.40" y2="248.30" stroke="#555" stroke-width="1.5"/>
<line x1="413.50" y1="242.94" x2="415.10" y2="242.94" stroke="#444" stroke-width="0.8"/>
<line x1="413.50" y1="239.03" x2="415.10" y2="239.03" stroke="#444" stroke-width="0.8"/>
<line x1="413.50" y1="235.84" x2="415.10" y2="235.84" stroke="#444" stroke-width="0.8"/>
<line x1="413.50" y1="233.14" x2="415.10" y2="233.14" stroke="#444" stroke-width="0.8"/>
<line x1="413.50" y1="230.81" x2="415.10" y2="230.81" stroke="#444" stroke-width="0.8"/>
<line x1="413.50" y1="228.74" x2="415.10" y2="228.74" stroke="#444" stroke-width="0.8"/>
<line x1="412.70" y1="226.90" x2="415.10" y2="226.90" stroke="#444" stroke-width="1.0"/>
<line x1="413.50" y1="214.77" x2="415.10" y2="214.77" stroke="#444" stroke-width="0.8"/>
<line x1="413.50" y1="207.67" x2="415.10" y2="207.67" stroke="#444" stroke-width="0.8"/>
<line x1="413.50" y1="202.64" x2="415.10" y2="202.64" stroke="#444" stroke-width="0.8"/>
<line x1="413.50" y1="198.73" x2="415.10" y2="198.73" stroke="#444" stroke-width="0.8"/>
<line x1="413.50" y1="195.54" x2="415.10" y2="195.54" stroke="#444" stroke-width="0.8"/>
<line x1="413.50" y1="192.84" x2="415.10" y2="192.84" stroke="#444" stroke-width="0.8"/>
<line x1="413.50" y1="190.51" x2="415.10" y2="190.51" stroke="#444" stroke-width="0.8"/>
<line x1="413.50" y1="188.44" x2="415.10" y2="188.44" stroke="#444" stroke-width="0.8"/>
<line x1="412.70" y1="186.60" x2="415.10" y2="186.60" stroke="#444" stroke-width="1.0"/>
<line x1="413.50" y1="174.47" x2="415.10" y2="174.47" stroke="#444" stroke-width="0.8"/>
<line x1="413.50" y1="167.37" x2="415.10" y2="167.37" stroke="#444" stroke-width="0.8"/>
<line x1="413.50" y1="162.34" x2="415.10" y2="162.34" stroke="#444" stroke-width="0.8"/>
<line x1="413.50" y1="158.43" x2="415.10" y2="158.43" stroke="#444" stroke-width="0.8"/>
<line x1="413.50" y1="155.24" x2="415.10" y2="155.24" stroke="#444" stroke-width="0.8"/>
<line x1="413.50" y1="152.54" x2="415.10" y2="152.54" stroke="#444" stroke-width="0.8"/>
<line x1="413.50" y1="150.21" x2="415.10" y2="150.21" stroke="#444" stroke-width="0.8"/>
<line x1="413.50" y1="148.14" x2="415.10" y2="148.14" stroke="#444" stroke-width="0.8"/>
<line x1="412.70" y1="146.30" x2="415.10" y2="146.30" stroke="#444" stroke-width="1.0"/>
<line x1="413.50" y1="134.17" x2="415.10" y2="134.17" stroke="#444" stroke-width="0.8"/>
<line x1="413.50" y1="127.07" x2="415.10" y2="127.07" stroke="#444" stroke-width="0.8"/>
<line x1="413.50" y1="122.04" x2="415.10" y2="122.04" stroke="#444" stroke-width="0.8"/>
<line x1="413.50" y1="118.13" x2="415.10" y2="118.13" stroke="#444" stroke-width="0.8"/>
<line x1="413.50" y1="114.94" x2="415.10" y2="114.94" stroke="#444" stroke-width="0.8"/>
<line x1="413.50" y1="112.24" x2="415.10" y2="112.24" stroke="#444" stroke-width="0.8"/>
<line x1="413.50" y1="109.91" x2="415.10" y2="109.91" stroke="#444" stroke-width="0.8"/>
<line x1="413.50" y1="107.84" x2="415.10" y2="107.84" stroke="#444" stroke-width="0.8"/>
<line x1="412.70" y1="106.00" x2="415.10" y2="106.00" stroke="#444" stroke-width="1.0"/>
<line x1="413.50" y1="93.87" x2="415.10" y2="93.87" stroke="#444" stroke-width="0.8"/>
<line x1="413.50" y1="86.77" x2="415.10" y2="86.77" stroke="#444" stroke-width="0.8"/>
<line x1="413.50" y1="81.74" x2="415.10" y2="81.74" stroke="#444" stroke-width="0.8"/>
<line x1="413.50" y1="77.83" x2="415.10" y2="77.83" stroke="#444" stroke-width="0.8"/>
<line x1="413.50" y1="74.64" x2="415.10" y2="74.64" stroke="#444" stroke-width="0.8"/>
<line x1="413.50" y1="71.94" x2="415.10" y2="71.94" stroke="#444" stroke-width="0.8"/>
<line x1="413.50" y1="69.61" x2="415.10" y2="69.61" stroke="#444" stroke-width="0.8"/>
<line x1="413.50" y1="67.54" x2="415.10" y2="67.54" stroke="#444" stroke-width="0.8"/>
<line x1="412.70" y1="65.70" x2="415.10" y2="65.70" stroke="#444" stroke-width="1.0"/>
<line x1="413.50" y1="53.57" x2="415.10" y2="53.57" stroke="#444" stroke-width="0.8"/>
<line x1="413.50" y1="46.47" x2="415.10" y2="46.47" stroke="#444" stroke-width="0.8"/>
<line x1="413.50" y1="41.44" x2="415.10" y2="41.44" stroke="#444" stroke-width="0.8"/>
<line x1="413.50" y1="37.53" x2="415.10" y2="37.53" stroke="#444" stroke-width="0.8"/>
<line x1="413.50" y1="34.34" x2="415.10" y2="34.34" stroke="#444" stroke-width="0.8"/>
<line x1="413.50" y1="31.64" x2="415.10" y2="31.64" stroke="#444" stroke-width="0.8"/>
<line x1="413.50" y1="29.31" x2="415.10" y2="29.31" stroke="#444" stroke-width="0.8"/>
<line x1="413.50" y1="27.24" x2="415.10" y2="27.24" stroke="#444" stroke-width="0.8"/>
<line x1="412.70" y1="25.40" x2="415.10" y2="25.40" stroke="#444" stroke-width="1.0"/>
<line x1="413.50" y1="13.27" x2="415.10" y2="13.27" stroke="#444" stroke-width="0.8"/>
<line x1="413.50" y1="6.17" x2="415.10" y2="6.17" stroke="#444" stroke-width="0.8"/>
<line x1="415.10" y1="248.30" x2="415.10" y2="251.30" stroke="#444" stroke-width="1.0"/>
<line x1="467.06" y1="248.30" x2="467.06" y2="249.90" stroke="#444" stroke-width="1.0"/>
<line x1="497.45" y1="248.30" x2="497.45" y2="249.90" stroke="#444" stroke-width="1.0"/>
<line x1="519.02" y1="248.30" x2="519.02" y2="249.90" stroke="#444" stroke-width="1.0"/>
<line x1="535.74" y1="248.30" x2="535.74" y2="249.90" stroke="#444" stroke-width="1.0"/>
<line x1="549.41" y1="248.30" x2="549.41" y2="249.90" stroke="#444" stroke-width="1.0"/>
<line x1="560.96" y1="248.30" x2="560.96" y2="249.90" stroke="#444" stroke-width="1.0"/>
<line x1="570.97" y1="248.30" x2="570.97" y2="249.90" stroke="#444" stroke-width="1.0"/>
<line x1="579.80" y1="248.30" x2="579.80" y2="249.90" stroke="#444" stroke-width="1.0"/>
<line x1="587.70" y1="248.30" x2="587.70" y2="251.30" stroke="#444" stroke-width="1.0"/>
<line x1="639.66" y1="248.30" x2="639.66" y2="249.90" stroke="#444" stroke-width="1.0"/>
<line x1="670.05" y1="248.30" x2="670.05" y2="249.90" stroke="#444" stroke-width="1.0"/>
<line x1="691.62" y1="248.30" x2="691.62" y2="249.90" stroke="#444" stroke-width="1.0"/>
<text x="0" y="0" font-size="10.20" text-anchor="end" transform="translate(37.50,53.20) scale(0.8900,1)">10<tspan font-size="6.40" dy="-4.00">5</tspan></text>
<text x="0" y="0" font-size="10.20" text-anchor="end" transform="translate(37.50,108.20) scale(0.8900,1)">10<tspan font-size="6.40" dy="-4.00">3</tspan></text>
<text x="0" y="0" font-size="10.20" text-anchor="end" transform="translate(37.50,163.20) scale(0.8900,1)">10<tspan font-size="6.40" dy="-4.00">1</tspan></text>
<text x="0" y="0" font-size="10.20" text-anchor="end" transform="translate(37.50,218.20) scale(0.8600,1)">10<tspan font-size="6.40" dy="-4.00">-1</tspan></text>
<text x="0" y="0" font-size="9.80" text-anchor="end" transform="translate(402.50,27.90) scale(0.8500,1)">10<tspan font-size="6.20" dy="-4.00">4</tspan></text>
<text x="0" y="0" font-size="9.80" text-anchor="end" transform="translate(402.50,68.20) scale(0.8500,1)">10<tspan font-size="6.20" dy="-4.00">3</tspan></text>
<text x="0" y="0" font-size="9.80" text-anchor="end" transform="translate(402.50,108.50) scale(0.8500,1)">10<tspan font-size="6.20" dy="-4.00">2</tspan></text>
<text x="0" y="0" font-size="9.80" text-anchor="end" transform="translate(402.50,148.80) scale(0.8500,1)">10<tspan font-size="6.20" dy="-4.00">1</tspan></text>
<text x="0" y="0" font-size="9.80" text-anchor="end" transform="translate(402.50,188.80) scale(0.8500,1)">10<tspan font-size="6.20" dy="-4.00">0</tspan></text>
<text x="0" y="0" font-size="9.80" text-anchor="end" transform="translate(402.50,230.40) scale(0.8500,1)">10<tspan font-size="6.20" dy="-4.00">-1</tspan></text>
<text x="0" y="0" font-size="10.20" text-anchor="start" transform="translate(48.60,267.20) scale(1.0000,1)">0<tspan font-size="6.30" dy="-3.00">-2</tspan></text>
<text x="0" y="0" font-size="10.20" text-anchor="start" transform="translate(229.60,267.20) scale(0.9200,1)">10<tspan font-size="6.30" dy="-3.00">-1</tspan></text>
<text x="0" y="0" font-size="9.80" text-anchor="start" transform="translate(410.30,266.50) scale(0.8800,1)">0<tspan font-size="6.10" dy="-3.00">-2</tspan></text>
<text x="0" y="0" font-size="9.80" text-anchor="start" transform="translate(581.30,266.50) scale(0.8400,1)">10<tspan font-size="6.10" dy="-3.00">-1</tspan></text>
<text x="0" y="0" font-size="13.00" text-anchor="start" transform="translate(180.20,295.80) scale(0.9700,1)" style="stroke-width:0.15px">Q(A<tspan font-size="8" dy="-5.8">-1</tspan><tspan dy="5.8">)</tspan></text>
<circle cx="198.9" cy="274.1" r="0.9" fill="#c4c4c4"/>
<text x="0" y="0" font-size="13.00" text-anchor="start" transform="translate(543.50,292.70) scale(0.9600,1)" style="stroke-width:0.15px">Q(A<tspan font-size="8" dy="-5.8">-1</tspan><tspan dy="5.8">)</tspan></text>
<text x="0" y="0" font-size="12.40" transform="translate(8.90,142.80) rotate(-90)">S(Q)</text>
<text x="0" y="0" font-size="12.40" transform="translate(374.40,143.20) rotate(-90)">S(Q)</text>
<line x1="268.60" y1="19.60" x2="278.90" y2="19.60" stroke="#555" stroke-width="0.9"/>
<line x1="269.20" y1="38.80" x2="271.60" y2="38.80" stroke="#333" stroke-width="1.3"/>
<line x1="272.60" y1="38.80" x2="275.00" y2="38.80" stroke="#333" stroke-width="1.3"/>
<line x1="276.00" y1="38.80" x2="278.40" y2="38.80" stroke="#333" stroke-width="1.3"/>
<text x="0" y="0" font-size="10.80" text-anchor="start" transform="translate(290.10,23.50) scale(0.9200,1)">Experiment</text>
<text x="0" y="0" font-size="10.80" text-anchor="start" transform="translate(290.10,41.60) scale(0.9200,1)">Simulation</text>
<line x1="623.00" y1="23.50" x2="631.90" y2="23.50" stroke="#555" stroke-width="0.9"/>
<line x1="623.30" y1="42.00" x2="625.70" y2="42.00" stroke="#333" stroke-width="1.3"/>
<line x1="626.40" y1="42.00" x2="628.80" y2="42.00" stroke="#333" stroke-width="1.3"/>
<line x1="629.50" y1="42.00" x2="631.90" y2="42.00" stroke="#333" stroke-width="1.3"/>
<text x="0" y="0" font-size="11.00" text-anchor="start" transform="translate(641.70,27.80) scale(0.7900,1)">Experiment</text>
<text x="0" y="0" font-size="11.00" text-anchor="start" transform="translate(641.80,45.40) scale(0.7900,1)">Simulation</text>
<line x1="64.00" y1="173.00" x2="83.00" y2="173.00" stroke="#5aa85a" stroke-width="1.8"/>
<text x="0" y="0" font-size="10.80" text-anchor="start" transform="translate(100.20,176.90) scale(0.9400,1)">Chain 1</text>
<line x1="64.00" y1="189.28" x2="83.00" y2="189.28" stroke="#a050e0" stroke-width="1.8"/>
<text x="0" y="0" font-size="10.80" text-anchor="start" transform="translate(100.20,193.18) scale(0.9400,1)">Chain 2</text>
<line x1="64.00" y1="205.56" x2="83.00" y2="205.56" stroke="#f03c3c" stroke-width="1.8"/>
<text x="0" y="0" font-size="10.80" text-anchor="start" transform="translate(100.20,209.46) scale(0.9400,1)">Chain 3</text>
<line x1="64.00" y1="221.84" x2="83.00" y2="221.84" stroke="#5858e0" stroke-width="1.8"/>
<text x="0" y="0" font-size="10.80" text-anchor="start" transform="translate(100.20,225.74) scale(0.9400,1)">Chain 4</text>
<line x1="64.00" y1="238.12" x2="83.00" y2="238.12" stroke="#28e0e0" stroke-width="1.8"/>
<text x="0" y="0" font-size="10.80" text-anchor="start" transform="translate(100.20,242.02) scale(0.9400,1)">Chain 5</text>
<line x1="437.00" y1="194.30" x2="453.50" y2="194.30" stroke="#5aa85a" stroke-width="1.8"/>
<text x="0" y="0" font-size="11.00" text-anchor="start" transform="translate(468.60,198.00) scale(0.8000,1)">Chain 6</text>
<line x1="437.00" y1="210.30" x2="453.50" y2="210.30" stroke="#a050e0" stroke-width="1.8"/>
<text x="0" y="0" font-size="11.00" text-anchor="start" transform="translate(468.60,214.00) scale(0.8000,1)">Chain 7</text>
<line x1="437.00" y1="226.30" x2="453.50" y2="226.30" stroke="#f03c3c" stroke-width="1.8"/>
<text x="0" y="0" font-size="11.00" text-anchor="start" transform="translate(468.60,230.00) scale(0.8000,1)">Chain 8</text>
</svg>
</body></html>
